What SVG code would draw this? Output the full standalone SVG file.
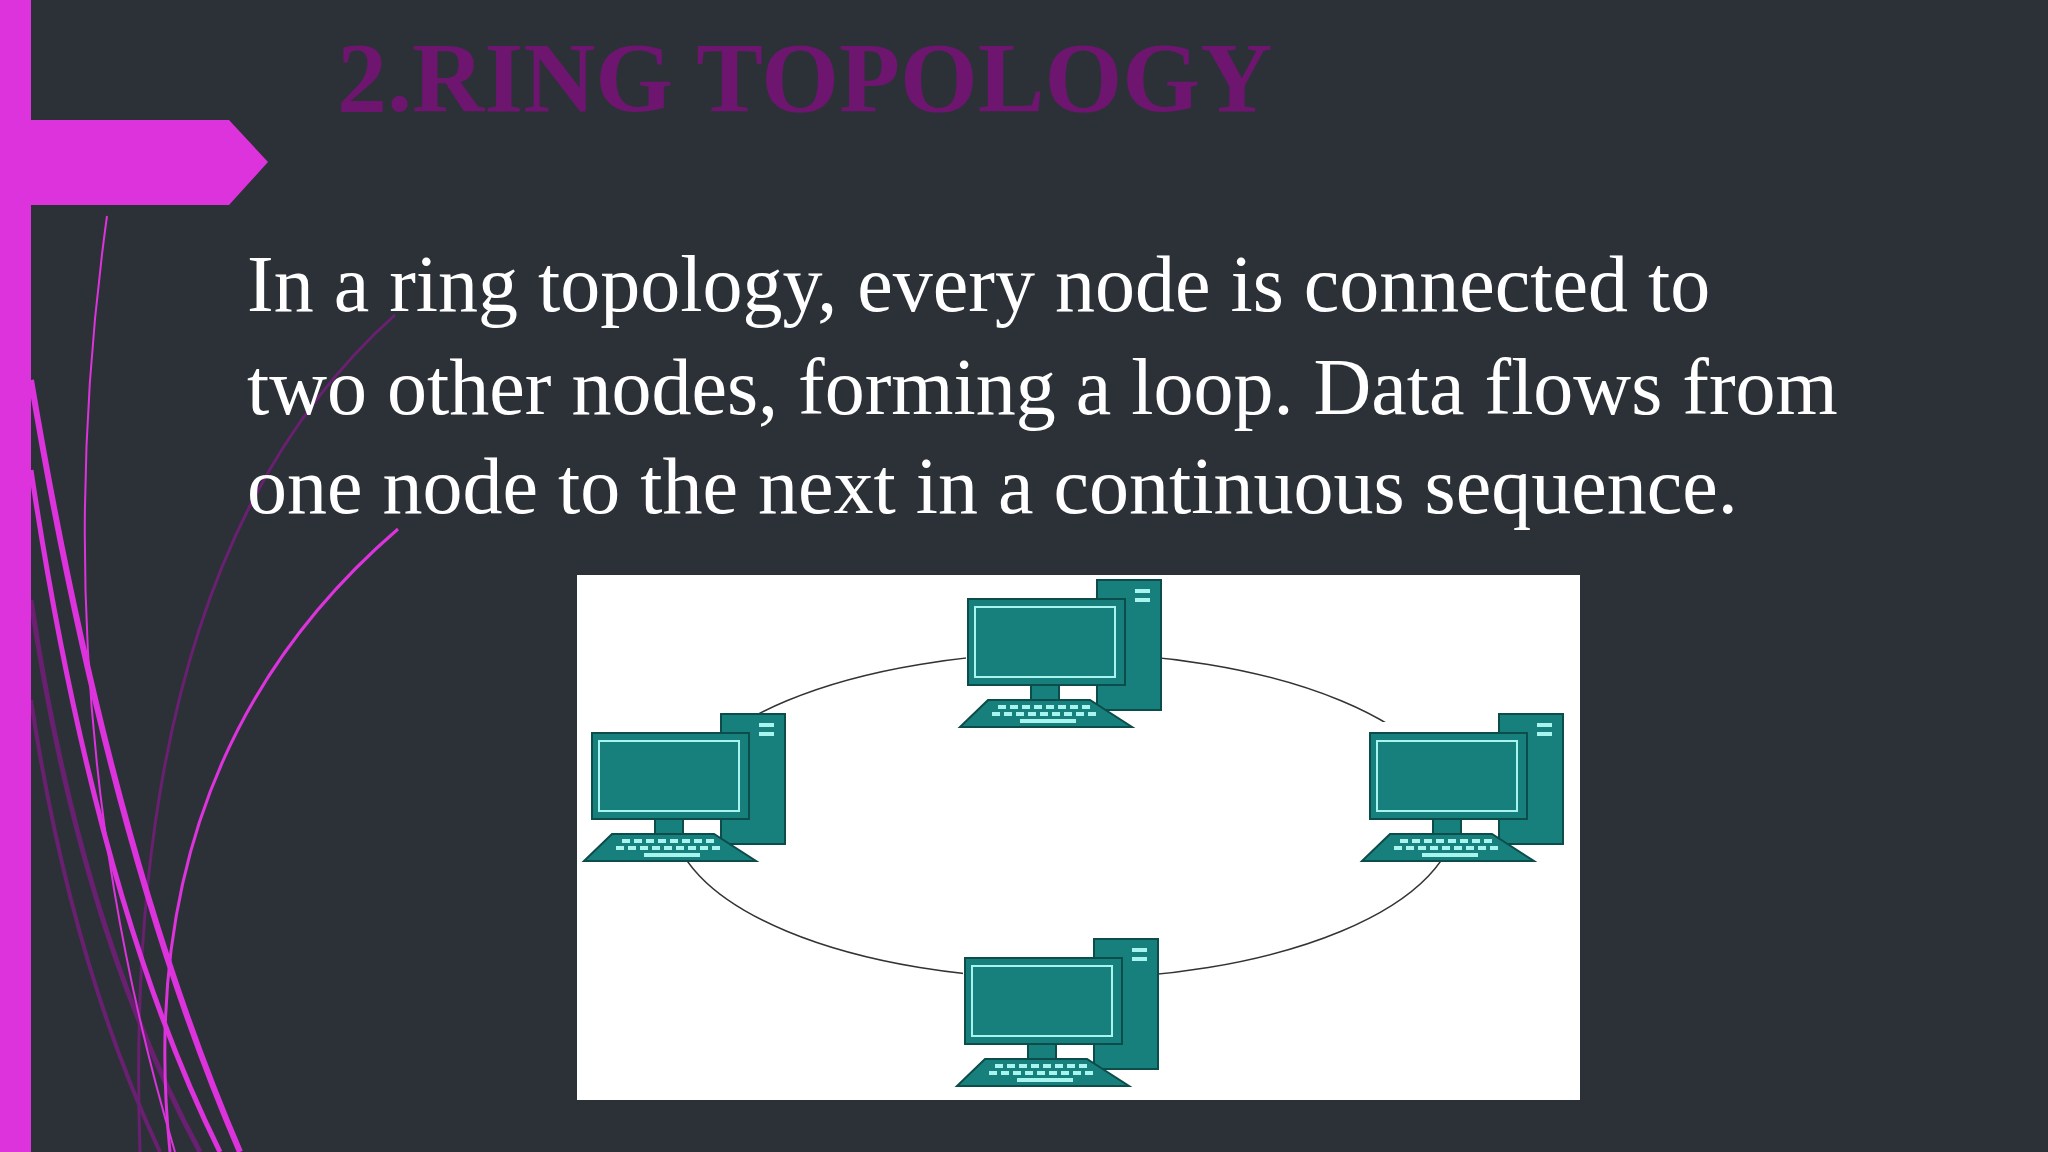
<svg xmlns="http://www.w3.org/2000/svg" xmlns:xlink="http://www.w3.org/1999/xlink" width="2048" height="1152" viewBox="0 0 2048 1152">
<style>
.body{font-family:"Liberation Serif","Times New Roman",serif;font-size:80px;fill:#ffffff}
.title{font-family:"Liberation Serif","Times New Roman",serif;font-size:100px;font-weight:bold;fill:#6e1570}
.m{fill:none;stroke:#dd33dd}
.d{fill:none;stroke:#6a2070}
.t{fill:#17807c;stroke:#0c4c4a;stroke-width:2}
.k{fill:#a8f4ef}
</style>
<defs>
<g id="pc">
<rect class="t" x="137" y="2" width="64" height="130"/>
<rect class="k" x="175" y="11" width="15" height="4"/>
<rect class="k" x="175" y="20" width="15" height="4"/>
<rect class="t" x="8" y="21" width="157" height="86"/>
<rect x="15" y="29" width="140" height="70" fill="none" stroke="#a8f4ef" stroke-width="2"/>
<rect class="t" x="71" y="107" width="28" height="15"/>
<polygon class="t" points="28,122 130,122 172,149 0,149"/>
<g class="k">
<rect x="38" y="127" width="8" height="4"/><rect x="50" y="127" width="8" height="4"/><rect x="62" y="127" width="8" height="4"/><rect x="74" y="127" width="8" height="4"/><rect x="86" y="127" width="8" height="4"/><rect x="98" y="127" width="8" height="4"/><rect x="110" y="127" width="8" height="4"/><rect x="122" y="127" width="8" height="4"/>
<rect x="32" y="134" width="8" height="4"/><rect x="44" y="134" width="8" height="4"/><rect x="56" y="134" width="8" height="4"/><rect x="68" y="134" width="8" height="4"/><rect x="80" y="134" width="8" height="4"/><rect x="92" y="134" width="8" height="4"/><rect x="104" y="134" width="8" height="4"/><rect x="116" y="134" width="8" height="4"/><rect x="128" y="134" width="8" height="4"/>
<rect x="60" y="141" width="56" height="4"/>
</g>
</g>
</defs>
<rect width="2048" height="1152" fill="#2c3138"/>
<g id="decor">
<path class="d" stroke-width="5" d="M31,600 Q 80,930 200,1152"/>
<path class="d" stroke-width="4" d="M31,700 Q 70,960 160,1152"/>
<path class="d" stroke-width="3" d="M395,315 Q 120,560 140,1152"/>
<path class="m" stroke-width="2" d="M107,216 Q 40,700 175,1152"/>
<path class="m" stroke-width="6" d="M31,380 Q 110,850 240,1152"/>
<path class="m" stroke-width="5" d="M31,470 Q 95,900 220,1152"/>
<path class="m" stroke-width="3" d="M398,529 Q 130,760 170,1152"/>
<rect x="0" y="0" width="31" height="1152" fill="#dd33dd"/>
<polygon points="31,120 229,120 268,162 229,205 31,205" fill="#dd33dd"/>
</g>
<text class="title" x="337" y="111">2.RING TOPOLOGY</text>
<text class="body" x="247" y="311">In a ring topology, every node is connected to</text>
<text class="body" x="247" y="414">two other nodes, forming a loop. Data flows from</text>
<text class="body" x="247" y="513">one node to the next in a continuous sequence.</text>
<rect x="577" y="575" width="1003" height="525" fill="#ffffff"/>
<g id="connectors">
<ellipse cx="1064" cy="816" rx="392" ry="163" fill="none" stroke="#333" stroke-width="1.5"/>
</g>
<g id="node-top"><rect x="966" y="590" width="180" height="120" fill="#fff"/><use xlink:href="#pc" x="960" y="578"/></g>
<g id="node-left"><rect x="590" y="722" width="180" height="120" fill="#fff"/><use xlink:href="#pc" x="584" y="712"/></g>
<g id="node-right"><rect x="1368" y="722" width="180" height="120" fill="#fff"/><use xlink:href="#pc" x="1362" y="712"/></g>
<g id="node-bottom"><rect x="963" y="948" width="180" height="120" fill="#fff"/><use xlink:href="#pc" x="957" y="937"/></g>
</svg>
